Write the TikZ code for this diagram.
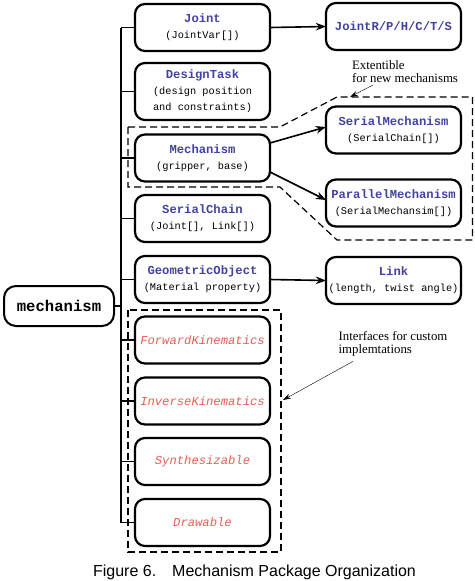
\documentclass[tikz,border=0pt]{standalone}
\usepackage{fontspec}
\setmainfont{Liberation Serif}
\setsansfont{Liberation Sans}
\setmonofont{Liberation Mono}
\usetikzlibrary{
    arrows.meta,
    calc,
    positioning
}
\definecolor{clsblue}{RGB}{66,66,160}
\definecolor{ifcred}{RGB}{228,96,84}
\newcommand\boxtitle[1]{{\fontsize{12.2}{16}\selectfont\bfseries\color{clsblue}#1}}
\newcommand\boxnote[1]{{\fontsize{10.3}{16}\selectfont #1}}
\newcommand\ifcname[1]{{\fontsize{12.2}{16}\selectfont\itshape\color{ifcred}#1}}
\tikzset{
    every picture/.style = {
        > = Stealth,
        x = 1pt,
        y = -1pt
    },
    every node/.style = {
        inner sep = 1pt,
        outer sep = 0pt,
        align = center,
        font = \ttfamily\fontsize{10.3}{16}\selectfont
    },
    cls/.style = {
        draw,
        line width = 2.2pt,
        rounded corners = 10pt,
        minimum width = 135pt,
        minimum height = 47pt
    },
    branch/.style = {line width = 1.6pt},
    region/.style = {line width = 1.2pt, dash pattern = on 7pt off 4pt},
    note/.style = {
        font = \rmfamily\fontsize{12.8}{13}\selectfont,
        align = left
    },
    pointer/.style = {thin, ->, >={Stealth[length=8pt,width=5pt]}}
}

\begin{document}
\begin{tikzpicture}
    \useasboundingbox (0,0) rectangle (474,581);

    \coordinate (trunk) at (121,0);

    \node[cls, line width = 2pt, rounded corners = 12pt, minimum width = 110pt, minimum height = 40pt] (root) at (59,306)
        {\fontsize{15.6}{16}\selectfont\bfseries mechanism};

    % left column
    \node[cls] (joint) at (202.5,27.5) {\boxtitle{Joint}\\\boxnote{(JointVar[])}};
    \node[cls, minimum height = 57pt] (task) at (202.5,91.5) {\boxtitle{DesignTask}\\\boxnote{(design position}\\\boxnote{and constraints)}};
    \node[cls] (mech) at (202.5,158) {\boxtitle{Mechanism}\\\boxnote{(gripper, base)}};
    \node[cls] (chain) at (202.5,218.5) {\boxtitle{SerialChain}\\\boxnote{(Joint[], Link[])}};
    \node[cls] (geom) at (202.5,279.5) {\boxtitle{GeometricObject}\\\boxnote{(Material property)}};
    \node[cls] (fkin) at (202.5,340) {\ifcname{ForwardKinematics}};
    \node[cls] (ikin) at (202.5,401) {\ifcname{InverseKinematics}};
    \node[cls] (synth) at (202.5,461.5) {\ifcname{Synthesizable}};
    \node[cls] (draw) at (202.5,522.5) {\ifcname{Drawable}};

    % right column
    \node[cls] (jointr) at (393.5,26.5) {\boxtitle{JointR/P/H/C/T/S}};
    \node[cls] (smech) at (393.5,130) {\boxtitle{SerialMechanism}\\\boxnote{(SerialChain[])}};
    \node[cls] (pmech) at (393.5,203) {\boxtitle{ParallelMechanism}\\\boxnote{(SerialMechansim[])}};
    \node[cls] (link) at (393.5,280.5) {\boxtitle{Link}\\\boxnote{(length, twist angle)}};

    % tree
    \draw[branch] (joint.west -| trunk) -- (draw.west -| trunk);
    \draw[branch] (root.east) -- (root.east -| trunk);
    \foreach \n in {joint,task,mech,chain,geom,fkin,ikin,synth,draw}
        \draw[branch] (\n.west) -- (\n.west -| trunk);

    \draw[line width = 1.6pt, ->] (joint.east) -- (jointr.west);
    \draw[line width = 1.6pt, ->] ($(mech.east)+(0,-15)$) -- ($(smech.west)+(0,-3)$);
    \draw[line width = 1.6pt, ->] ($(mech.east)+(0,14)$) -- ($(pmech.west)+(0,-3)$);
    \draw[line width = 1.6pt, ->] (geom.east) -- (link.west);

    % dashed regions
    \draw[region] (128,127) -- (280,127) -- (337,97) -- (472.5,97) -- (472.5,240)
        -- (337,240) -- (280,187) -- (128,187) -- cycle;
    \draw[region] (128,310) rectangle (281,552);

    % notes
    \node[note] (extnote) at (405,72) {Extentible\\for new mechanisms};
    \coordinate (exttip) at (350,97);
    \draw[pointer] ($(extnote.south)+(-32,1)$) -- (exttip);

    \node[note] (ifnote) at (393,344) {Interfaces for custom\\implemtations};
    \coordinate (iftip) at (283,400);
    \draw[pointer] ($(ifnote.south)+(-40,4)$) -- (iftip);

    % caption
    \node[font = \sffamily\fontsize{16}{18}\selectfont] (caption) at (254.5,572)
        {Figure 6.\hspace{16pt}Mechanism Package Organization};
\end{tikzpicture}
\end{document}
